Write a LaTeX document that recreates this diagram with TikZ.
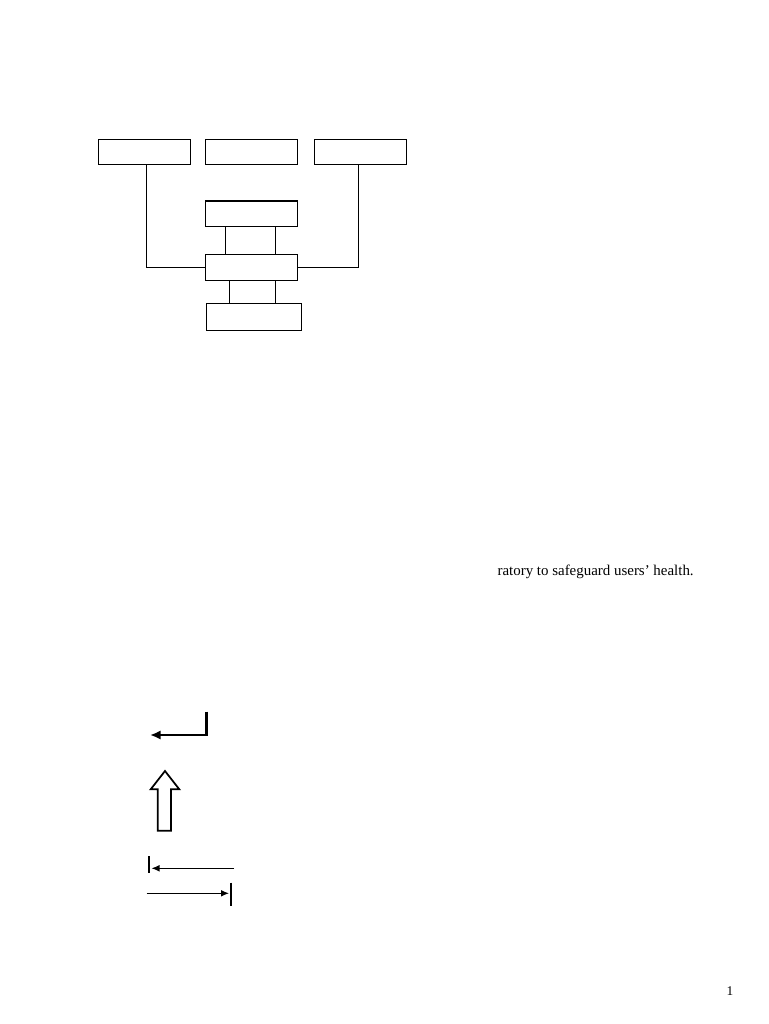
\documentclass[tikz,border=0pt]{standalone}
\usepackage{fontspec}
\setmainfont{Liberation Serif}
\usetikzlibrary{arrows.meta}

\begin{document}
\begin{tikzpicture}[x=0.75pt,y=-0.75pt,
  box/.style={draw, line width=0.8pt, minimum width=69pt, minimum height=19.4pt, inner sep=0pt},
  link/.style={line width=0.8pt}]
\useasboundingbox (0,0) rectangle (768,1024);

% top row of boxes
\node[box] (boxleft) at (144.7,152) {};
\node[box] (boxmid) at (251.9,152) {};
\node[box] (boxright) at (360.2,152) {};

% middle stack
\node[box] (stacktop) at (251.9,213.9) {};
\node[box] (stackmid) at (251.9,267.5) {};
\node[box, minimum width=71.8pt, minimum height=20.4pt] (stackbot) at (253.9,316.7) {};

% connectors
\draw[link] ([xshift=1pt]boxleft.south) |- (stackmid.west);
\draw[link] ([xshift=-1pt]boxright.south) |- (stackmid.east);
\draw[link] ([xshift=-20pt]stacktop.south) -- ([xshift=-20pt]stackmid.north);
\draw[link] ([xshift=18pt]stacktop.south) -- ([xshift=18pt]stackmid.north);
\draw[link] ([xshift=-17pt]stackmid.south) -- ([xshift=-17pt]stackbot.north -| stackmid.south);
\draw[link] ([xshift=18pt]stackmid.south) -- ([xshift=18pt]stackbot.north -| stackmid.south);

% text
\node[anchor=base west, inner sep=0pt, font=\fontsize{11.2}{13}\selectfont] (sentence) at (497.3,575.3) {ratory to safeguard users’ health.};
\node[anchor=base, inner sep=0pt, font=\fontsize{10}{12}\selectfont] (pagenum) at (730,995.3) {1};

% return arrow
\coordinate (rettop) at (206.7,711.7);
\coordinate (retcorner) at (206.7,735);
\coordinate (rettip) at (150,735);
\draw[line width=2pt, -{Latex[length=8pt,width=7pt]}] (rettop) -- (retcorner) -- (rettip);

% hollow up arrow
\draw[line width=1.3pt, line join=miter] (157.7,830.7) -- (157.7,789.3) -- (150.7,789.3) -- (165,771) -- (179.3,789.3) -- (171,789.3) -- (171,830.7) -- cycle;

% bar arrows
\coordinate (barleft) at (149,856);
\coordinate (barleftend) at (149,873);
\coordinate (leftstart) at (234,868.3);
\coordinate (lefttip) at (151.5,868.3);
\draw[line width=1.8pt] (barleft) -- (barleftend);
\draw[line width=0.8pt, -{Latex[length=6pt,width=5pt]}] (leftstart) -- (lefttip);

\coordinate (rightstart) at (146.7,893.3);
\coordinate (righttip) at (229,893.3);
\coordinate (barright) at (230.7,882.7);
\coordinate (barrightend) at (230.7,906);
\draw[line width=0.8pt, -{Latex[length=6pt,width=5pt]}] (rightstart) -- (righttip);
\draw[line width=1.8pt] (barright) -- (barrightend);
\end{tikzpicture}
\end{document}
